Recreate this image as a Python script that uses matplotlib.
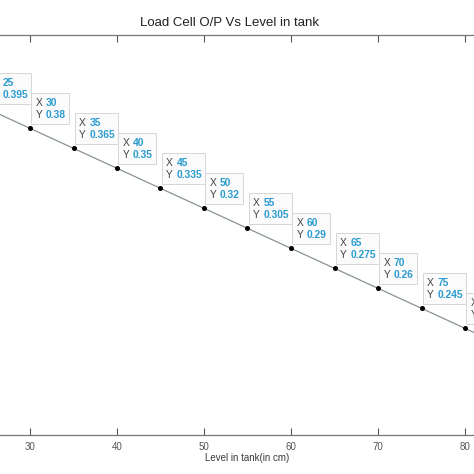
import matplotlib.pyplot as plt

plt.rcParams['font.family'] = ['Liberation Sans', 'DejaVu Sans']

# level in tank (cm) and load cell output
level = [25, 30, 35, 40, 45, 50, 55, 60, 65, 70, 75, 80, 85]
output = [0.395, 0.38, 0.365, 0.35, 0.335, 0.32, 0.305, 0.29, 0.275, 0.26, 0.245, 0.23, 0.215]
tip_x = ['25', '30', '35', '40', '45', '50', '55', '60', '65', '70', '75', '80', '85']
tip_y = ['0.395', '0.38', '0.365', '0.35', '0.335', '0.32', '0.305', '0.29', '0.275', '0.26', '0.245', '0.23', '0.215']
xticks = [30, 40, 50, 60, 70, 80]

fig = plt.figure(figsize=(4.74, 4.74), dpi=100)
ax = fig.add_axes([-13.5 / 474, 39 / 474, 522 / 474, 400 / 474])
ax.set_xlim(25, 85)
ax.set_ylim(0.15, 0.45)

ax.plot(level, output, color='#8a9496', lw=0.9, marker='o', ms=2.6,
        mfc='black', mec='black', zorder=2, clip_on=False)

ax.set_xticks(xticks)
ax.set_yticks([])
ax.tick_params(axis='x', direction='in', length=5, width=0.8, color='#555555',
               top=True, labelsize=7, labelcolor='#555555', pad=5)
for s in ['top', 'bottom']:
    ax.spines[s].set_color('#777777')
    ax.spines[s].set_linewidth(0.9)
for s in ['left', 'right']:
    ax.spines[s].set_visible(False)

# data tips
fs = 7.4
for x, y, sx, sy in zip(level, output, tip_x, tip_y):
    ax.annotate(f"X {sx}\nY {sy}", xy=(x, y), xytext=(4.0, 6.0),
                textcoords='offset points', ha='left', va='bottom',
                fontsize=fs, fontweight='bold', color='none', linespacing=1.3,
                bbox=dict(boxstyle='square,pad=0.4', fc='#fbfbfb', ec='#d6d6d6', lw=0.7),
                zorder=3)
    lab = ax.annotate("X\nY", xy=(x, y), xytext=(4.0, 6.0),
                      textcoords='offset points', ha='left', va='bottom',
                      fontsize=fs, color='#444444', linespacing=1.3, zorder=4)
    ax.annotate(f"{sx}\n{sy}", xy=(1, 0), xycoords=lab, xytext=(2.5, 0),
                textcoords='offset points', ha='left', va='bottom',
                fontsize=fs, fontweight='bold', color='#2b9bd0',
                linespacing=1.3, zorder=4)

fig.text(229 / 474, 1 - 23 / 474, "Load Cell O/P Vs Level in tank",
         ha='center', va='center', fontsize=9.5, color='#202020')
fig.text(247 / 474, 1 - 458 / 474, "Level in tank(in cm)",
         ha='center', va='center', fontsize=7, color='#3a3a3a')

fig.savefig('out.png', dpi=100)
